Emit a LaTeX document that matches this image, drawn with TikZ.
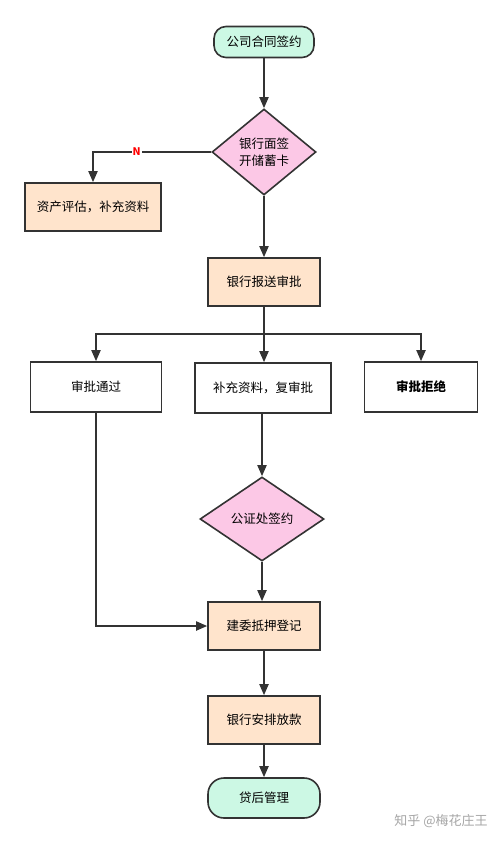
\documentclass[tikz,border=0pt]{standalone}
\usepackage{fontspec}
\setmainfont{Noto Sans CJK SC}
\usetikzlibrary{ arrows.meta,
                 shapes.geometric, % For the diamonds
                 positioning,
               }
\definecolor{lineclr}{HTML}{333333}
\definecolor{mintfill}{HTML}{CCF8E4}
\definecolor{pinkfill}{HTML}{FCC8E6}
\definecolor{peachfill}{HTML}{FFE4CC}
\tikzstyle{flow} = [draw=lineclr, line width=1.8pt, -{Triangle[length=11pt, width=9pt]}]
\tikzstyle{line} = [draw=lineclr, line width=1.8pt]
\tikzstyle{terminal} = [rectangle, rounded corners=12pt, draw=lineclr, line width=1.6pt, fill=mintfill, minimum width=100pt, minimum height=31pt]
\tikzstyle{decision} = [diamond, draw=lineclr, line width=1.6pt, fill=pinkfill, inner sep=0pt, align=center]
\tikzstyle{process} = [rectangle, draw=lineclr, line width=1.6pt, fill=peachfill, minimum width=112pt, minimum height=48pt]
\tikzstyle{plain} = [rectangle, draw=lineclr, line width=1.6pt, fill=white, minimum height=50pt]

\begin{document}
\begin{tikzpicture}[x=1pt, y=-1pt, font=\fontsize{12.5}{17}\selectfont]
  \useasboundingbox [fill=white] (0,0) rectangle (502,842);

  \node (start) [terminal] at (264, 42) {公司合同签约};
  \node (sign) [decision, minimum width=104pt, minimum height=86pt] at (264, 152) {银行面签\\开储蓄卡};
  \node (assess) [process, minimum width=136pt] at (93, 207) {资产评估，补充资料};
  \node (submit) [process] at (264, 282) {银行报送审批};

  \node (pass) [plain, minimum width=131pt] at (96, 387) {审批通过};
  \node (resub) [plain, minimum width=136pt] at (263, 388) {补充资料，复审批};
  \node (reject) [plain, minimum width=113pt, font=\fontsize{12.5}{17}\selectfont\bfseries] at (421, 387) {审批拒绝};

  \node (notary) [decision, minimum width=124pt, minimum height=84pt] at (262, 519) {公证处签约};
  \node (mortgage) [process] at (264, 626) {建委抵押登记};
  \node (loan) [process] at (264, 720) {银行安排放款};
  \node (after) [terminal, minimum width=112pt, minimum height=40pt, rounded corners=16pt] at (264, 798) {贷后管理};

  \coordinate (split) at (264, 334);

  \path [flow] (start) -- (sign);
  \path [flow] (sign.west) -| node [pos=0.315, text=red, font=\fontsize{10.5}{11}\selectfont\bfseries, fill=white, inner sep=1pt] {N} (assess.north);
  \path [flow] (sign) -- (submit);
  \path [line] (submit) -- (split);
  \path [flow] (split) -| (pass.north);
  \path [flow] (split) -| (reject.north);
  \path [flow] (split) -- (resub.north -| split);
  \path [flow] (resub.south -| notary.north) -- (notary);
  \path [flow] (pass.south) |- (mortgage.west);
  \path [flow] (notary) -- (mortgage.north -| notary.south);
  \path [flow] (mortgage) -- (loan);
  \path [flow] (loan) -- (after);

  \node (mark) [text=black!35, font=\fontsize{13}{15}\selectfont] at (441, 821) {知乎 @梅花庄王};
\end{tikzpicture}
\end{document}
